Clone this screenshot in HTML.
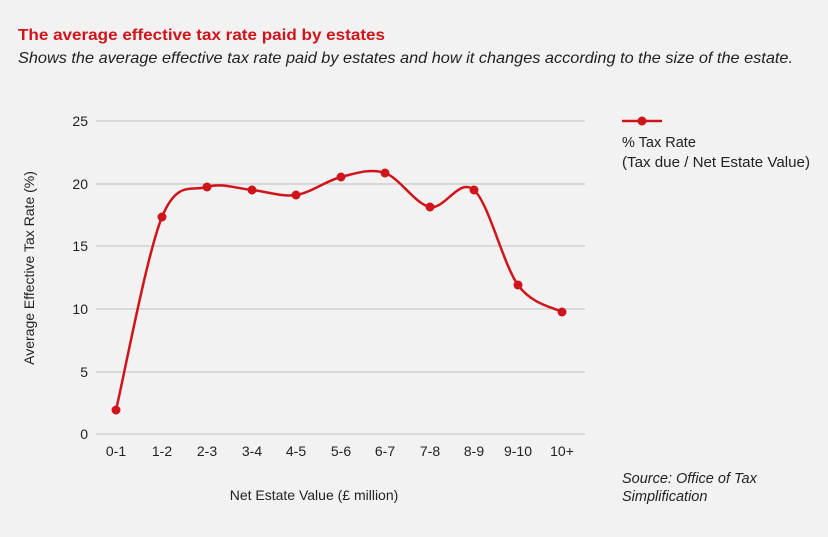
<!DOCTYPE html>
<html><head><meta charset="utf-8"><style>
body{margin:0;background:#f2f2f2;width:828px;height:532px;overflow:hidden;font-family:"Liberation Sans",sans-serif}
</style></head><body>
<svg width="828" height="532" xmlns="http://www.w3.org/2000/svg" font-family="Liberation Sans, sans-serif">
<rect width="828" height="532" fill="#f2f2f2"/>
<text x="18" y="40" font-size="16" font-weight="bold" fill="#d0141b" textLength="367" lengthAdjust="spacingAndGlyphs">The average effective tax rate paid by estates</text>
<text x="18" y="63" font-size="16" font-style="italic" fill="#222" textLength="775" lengthAdjust="spacingAndGlyphs">Shows the average effective tax rate paid by estates and how it changes according to the size of the estate.</text>
<g stroke="#bdbdbd" stroke-width="1">
<line x1="96" y1="121" x2="585" y2="121"/><line x1="96" y1="184" x2="585" y2="184"/>
<line x1="96" y1="246" x2="585" y2="246"/><line x1="96" y1="309" x2="585" y2="309"/>
<line x1="96" y1="372" x2="585" y2="372"/><line x1="96" y1="434" x2="585" y2="434"/>
</g>
<g font-size="14" fill="#222" text-anchor="end">
<text x="88" y="126">25</text><text x="88" y="189">20</text><text x="88" y="251">15</text>
<text x="88" y="314">10</text><text x="88" y="377">5</text><text x="88" y="439">0</text>
</g>
<g font-size="14" fill="#222" text-anchor="middle">
<text x="116" y="456">0-1</text><text x="162" y="456">1-2</text><text x="207" y="456">2-3</text>
<text x="252" y="456">3-4</text><text x="296" y="456">4-5</text><text x="341" y="456">5-6</text>
<text x="385" y="456">6-7</text><text x="430" y="456">7-8</text><text x="474" y="456">8-9</text>
<text x="518" y="456">9-10</text><text x="562" y="456">10+</text>
<text x="314" y="500">Net Estate Value (£ million)</text>
</g>
<text transform="translate(34,268) rotate(-90)" font-size="14" fill="#222" text-anchor="middle">Average Effective Tax Rate (%)</text>
<path fill="none" stroke="#d0141b" stroke-width="2.5" d="M116,410 C123.7,378 146.8,254.2 162,217 C177.2,179.8 192,191.5 207,187 C222,182.5 237.2,188.7 252,190 C266.8,191.3 281.2,197.2 296,195 C310.8,192.8 326.2,180.7 341,177 C355.8,173.3 370.2,168 385,173 C399.8,178 415.2,204.2 430,207 C444.8,209.8 459.3,177 474,190 C488.7,203 503.3,264.7 518,285 C532.7,305.3 554.7,307.5 562,312"/>
<g fill="#d0141b">
<circle cx="116" cy="410" r="4.5"/><circle cx="162" cy="217" r="4.5"/><circle cx="207" cy="187" r="4.5"/>
<circle cx="252" cy="190" r="4.5"/><circle cx="296" cy="195" r="4.5"/><circle cx="341" cy="177" r="4.5"/>
<circle cx="385" cy="173" r="4.5"/><circle cx="430" cy="207" r="4.5"/><circle cx="474" cy="190" r="4.5"/>
<circle cx="518" cy="285" r="4.5"/><circle cx="562" cy="312" r="4.5"/>
<circle cx="642" cy="121" r="4.5"/>
</g>
<line x1="622" y1="121" x2="662" y2="121" stroke="#d0141b" stroke-width="2.5"/>
<text x="622" y="147" font-size="14.5" fill="#222">% Tax Rate</text>
<text x="622" y="167" font-size="14.5" fill="#222" textLength="188" lengthAdjust="spacingAndGlyphs">(Tax due / Net Estate Value)</text>
<text x="622" y="483" font-size="14.5" font-style="italic" fill="#222">Source: Office of Tax</text>
<text x="622" y="501" font-size="14.5" font-style="italic" fill="#222">Simplification</text>
</svg>
</body></html>
